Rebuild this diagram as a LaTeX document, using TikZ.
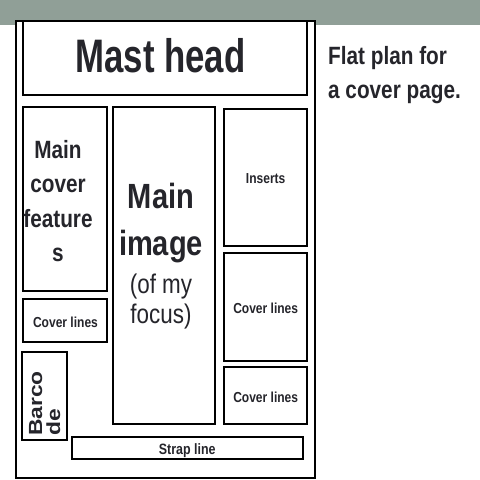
\documentclass[tikz,border=0pt]{standalone}
\usepackage{fontspec}
\setmainfont{Liberation Sans}
\newfontfamily\planfont{Liberation Sans}[FakeStretch=0.83]
\newfontfamily\mastfont{Liberation Sans}[FakeStretch=0.74]
\newfontfamily\barfont{Liberation Sans}[FakeStretch=1.2]
\usepackage{xcolor}
\definecolor{SlideBand}{HTML}{909F97}
\definecolor{PlanInk}{HTML}{25252B}

\begin{document}
\begin{tikzpicture}[x=1pt, y=-1pt,
    frame/.style={draw=black, line width=1.6pt},
    small/.style={text=PlanInk, font=\planfont\bfseries\fontsize{14.5}{17}\selectfont, anchor=base},
    big/.style={text=PlanInk, font=\planfont\bfseries\fontsize{25}{34.5}\selectfont, align=center, anchor=base}]
    \useasboundingbox (0,0) rectangle (480,480);
    % Slide band and page
    \fill[SlideBand] (0,0) rectangle (480,25);
    \draw[frame, fill=white, line width=2pt] (16,21) rectangle (315,478);

    % Boxes
    \draw[frame] (23,21) rectangle (307,95);
    \draw[frame] (23,107) rectangle (107,291);
    \draw[frame] (23,299) rectangle (107,342);
    \draw[frame] (22,352) rectangle (67,440);
    \draw[frame] (113,107) rectangle (215,424);
    \draw[frame] (224,109) rectangle (307,246);
    \draw[frame] (224,253) rectangle (307,361);
    \draw[frame] (224,367) rectangle (307,424);
    \draw[frame] (72,437) rectangle (303,459);

    % Labels (multi-line nodes sit on their last line)
    \node[text=PlanInk, font=\mastfont\bfseries\fontsize{47}{50}\selectfont, anchor=base] (masthead) at (160.5,72) {Mast head};
    \node[big] (coverfeat) at (58,261.5) {Main\\cover\\feature\\s};
    \node[small] (coverleft) at (65.5,327) {Cover lines};
    \node[text=PlanInk, font=\barfont\bfseries\fontsize{19}{18}\selectfont, align=left, inner sep=0pt, rotate=90, anchor=base west] (barcode) at (60,436) {Barco\\de};
    \node[text=PlanInk, font=\planfont\bfseries\fontsize{35}{47}\selectfont, align=center, anchor=base] (mainimage) at (161,255) {Main\\image};
    \node[text=PlanInk, font=\planfont\fontsize{27}{30.5}\selectfont, align=center, anchor=base] (focus) at (161,323.5) {(of my\\focus)};
    \node[small] (inserts) at (265.7,183) {Inserts};
    \node[small] (coverright) at (265.7,313) {Cover lines};
    \node[small] (coverlow) at (265.7,402.7) {Cover lines};
    \node[small, font=\planfont\bfseries\fontsize{15}{17}\selectfont] (strap) at (187.3,454) {Strap line};

    % Note
    \node[text=PlanInk, font=\planfont\bfseries\fontsize{25}{34}\selectfont, align=left, anchor=base west, inner sep=0pt] (plannote) at (328,98) {Flat plan for\\a cover page.};
\end{tikzpicture}
\end{document}
